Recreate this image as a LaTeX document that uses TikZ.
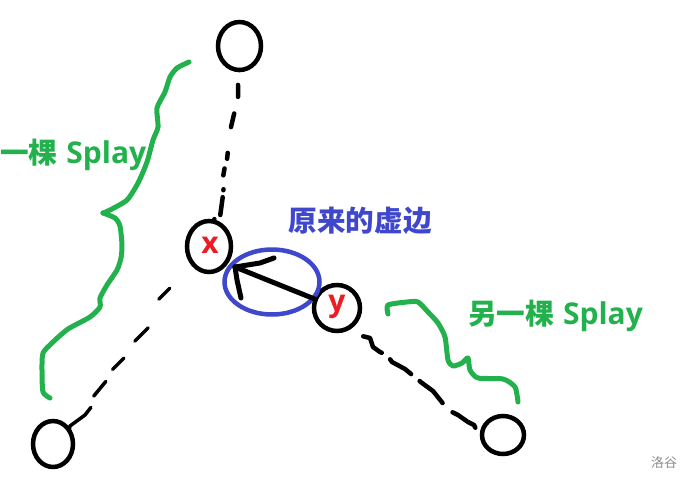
\documentclass[tikz,border=0pt]{standalone}
\usepackage{fontspec}
\usepackage{xcolor}
\setmainfont{Open Sans}
\newfontfamily\cjk{Noto Sans CJK SC}
\usetikzlibrary{shapes.geometric}
\definecolor{penblue}{HTML}{3F48CC}
\definecolor{pengreen}{HTML}{22B14C}
\definecolor{penred}{HTML}{ED1C24}
\newcommand{\splayword}{\fontsize{30}{30}\selectfont\rmfamily Splay}
\begin{document}
\begin{tikzpicture}[
          x=1pt, y=-1pt,
          vertex/.style={draw, ellipse, line width=4.5pt, inner sep=0pt, outer sep=0pt},
          vname/.style={text=penred, font=\fontsize{30}{30}\selectfont\bfseries},
          pentext/.style={inner sep=0pt, font=\fontsize{28.6}{30}\selectfont\bfseries},
          brace/.style={pengreen, line width=5pt, line cap=round, line join=round},
          vlink/.style={line cap=round, line join=round},
          head/.style={line width=5pt, line cap=round, line join=round},
        ]
          \useasboundingbox (0,0) rectangle (691,482);

          \node[vertex, minimum width=43pt, minimum height=48pt] (root) at (239.5,46) {};
          \node[vertex, minimum width=44pt, minimum height=51pt] (x) at (209,246.5) {};
          \node[vertex, minimum width=46pt, minimum height=46pt] (y) at (337,308) {};
          \node[vertex, minimum width=40pt, minimum height=46pt] (lleaf) at (53,444) {};
          \node[vertex, minimum width=42pt, minimum height=38pt] (rleaf) at (503,435) {};

          \node[vname] (xname) at (210,245) {x};
          \node[vname] (yname) at (337,307) {y};

          % the virtual edge, circled
          \node[draw=penblue, ellipse, line width=4.5pt, minimum width=95pt, minimum height=65pt, inner sep=0pt] (circled) at (272,282) {};
          \coordinate (tip) at (235,267);
          \draw[head] (y) -- (tip);
          \draw[head] (tip) -- (260,263) -- (274,258);
          \draw[head] (tip) -- (237,280) -- (241,298);

          % hand drawn dashed edges
          \draw[vlink, line width=4.5pt, dash pattern=on 0pt off 15pt on 12pt off 17pt on 14pt off 26pt on 6pt off 10pt on 7pt off 14pt on 1pt off 7pt on 18pt off 8pt]
            (root.south) -- (238,81) -- (238,97) -- (235,110) -- (231,127) -- (228,150) -- (227,160) -- (225,166) -- (223,177) -- (224,187) -- (223,192) -- (223,195) -- (220,217) -- (x.north);
          \draw[vlink, line width=3.5pt, dash pattern=on 0pt off 34pt on 15pt off 31pt on 19pt off 20pt on 16pt off 14pt on 19pt off 12pt on 40pt]
            (x.225) -- (170,288) -- (158,300) -- (149,327) -- (134,342) -- (125,357) -- (112,370) -- (107,380) -- (93,397) -- (92,406) -- (85,415) -- (70,426) -- (lleaf.40);
          \draw[vlink, line width=4.5pt, dash pattern=on 0pt off 17pt on 27pt off 11pt on 26pt off 11pt on 32pt off 14pt on 28pt off 14pt on 15pt off 40pt]
            (y.-60) -- (362,336) -- (370,338) -- (373,347) -- (380,352) -- (387,355) -- (392,362) -- (405,369) -- (411,374) -- (422,383) -- (433,391) -- (441,401) -- (448,410) -- (458,415) -- (468,422) -- (474,425) -- (477,431) -- (rleaf.west);

          % the two braces
          \draw[brace] plot[smooth, tension=0.4] coordinates {(189,62) (177,68) (170,77) (165,92) (157,108) (158,127) (153,140) (147,162) (138,183) (127,200) (110,210) (103,213)};
          \draw[brace] plot[smooth, tension=0.4] coordinates {(103,213) (115,218) (120,226) (122,245) (121,258) (117,270) (107,285) (100,298) (100,307) (90,317) (68,329) (53,342) (43,353) (42,370) (43,392) (50,398)};
          \draw[brace] plot[smooth, tension=0.4] coordinates {(388,314) (388,305) (407,302) (418,302) (428,312) (438,323) (445,337) (448,360) (453,366) (462,363) (468,358) (470,370) (478,378) (503,379) (515,387) (518,402)};

          \node[pentext, text=pengreen, anchor=west] (lefttext) at (0,154.5) {\cjk 一棵\hspace{9pt}\splayword};
          \node[pentext, text=pengreen, anchor=west] (righttext) at (468,315.5) {\cjk 另一棵\hspace{9pt}\splayword};
          \node[pentext, text=penblue, anchor=west] (edgetext) at (288.5,221) {\cjk 原来的虚边};
          \node[inner sep=0pt, text=black!45, font=\fontsize{13}{13}\selectfont] (mark) at (664,463) {\cjk 洛谷};
        \end{tikzpicture}
\end{document}
